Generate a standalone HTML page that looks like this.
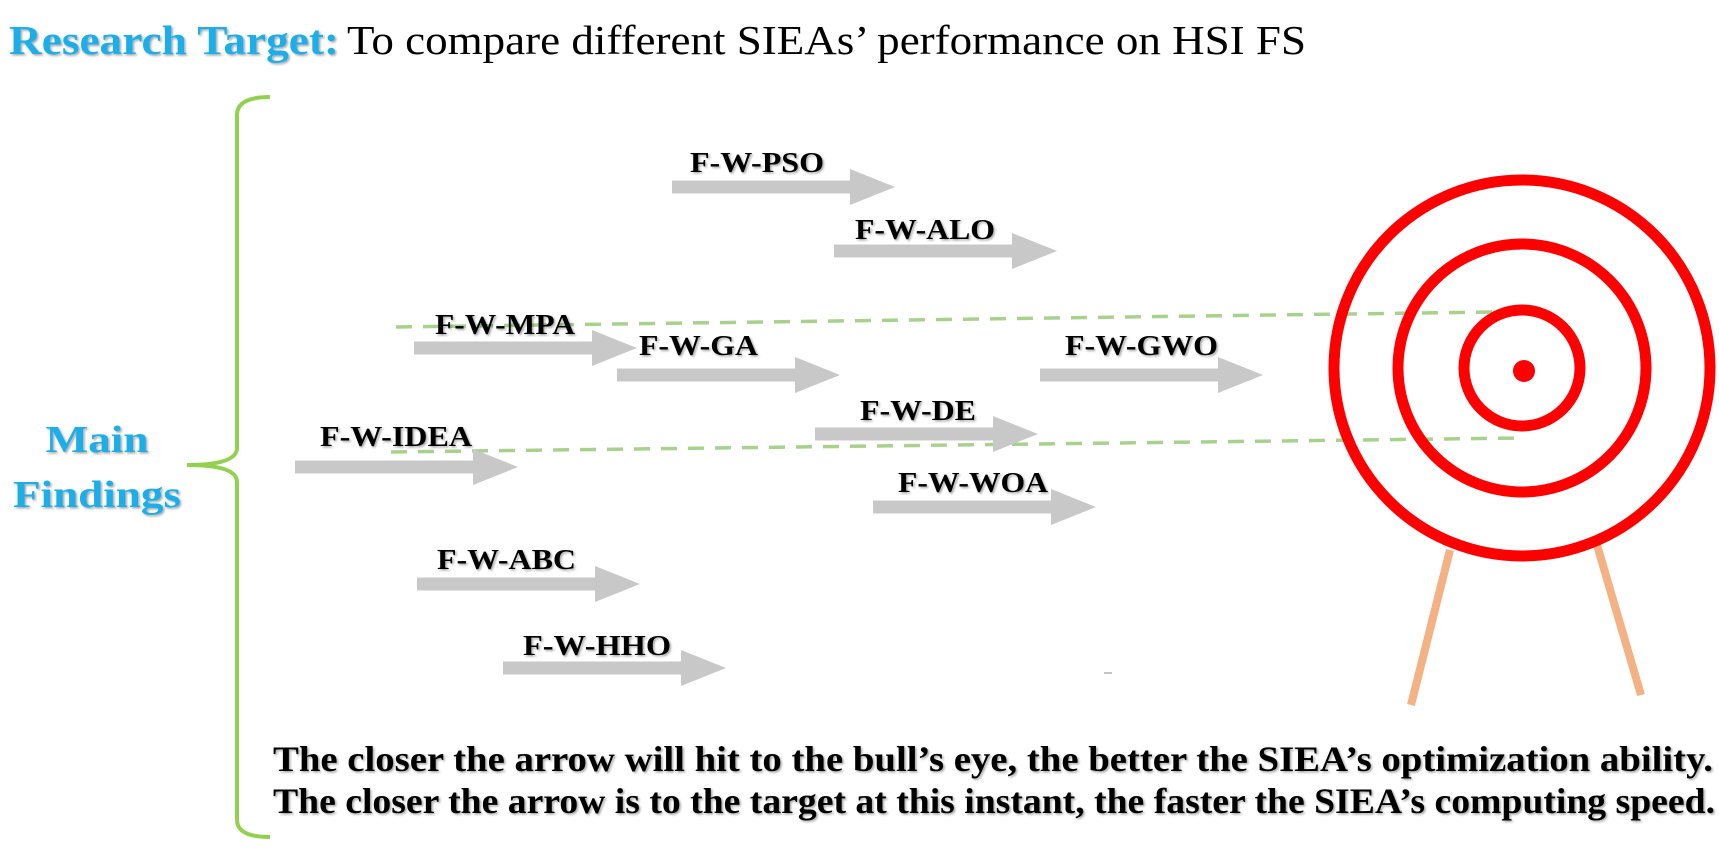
<!DOCTYPE html>
<html><head><meta charset="utf-8"><style>
html,body{margin:0;padding:0;background:#fff;}
svg{display:block;}
text{font-family:"Liberation Serif",serif;}
</style></head><body>
<svg width="1719" height="848" viewBox="0 0 1719 848" xmlns="http://www.w3.org/2000/svg">
<defs>
<filter id="sh" x="-5%" y="-20%" width="110%" height="140%"><feDropShadow dx="1.5" dy="1.5" stdDeviation="1" flood-color="#000" flood-opacity="0.35"/></filter>
<g id="arr"><rect x="0" y="-6.5" width="180" height="13" fill="#c8c8c8"/><polygon points="178,-18 223,0 178,18" fill="#c8c8c8"/></g>
</defs>
<text x="9" y="54" font-size="41" font-weight="bold" fill="#1eaee8" filter="url(#sh)" textLength="330" lengthAdjust="spacingAndGlyphs">Research Target:</text>
<text x="347" y="54" font-size="41" fill="#000" textLength="959" lengthAdjust="spacingAndGlyphs">To compare different SIEAs’ performance on HSI FS</text>

<path d="M270,97 Q237,97 237,115 L237,448 Q237,465 187,465 Q237,465 237,482 L237,820 Q237,837 270,837" fill="none" stroke="#92d050" stroke-width="4"/>
<text x="97" y="452" font-size="38" font-weight="bold" fill="#1eaee8" text-anchor="middle" filter="url(#sh)" textLength="103" lengthAdjust="spacingAndGlyphs">Main</text>
<text x="97" y="507" font-size="38" font-weight="bold" fill="#1eaee8" text-anchor="middle" filter="url(#sh)" textLength="168" lengthAdjust="spacingAndGlyphs">Findings</text>

<line x1="396" y1="327" x2="1492" y2="312" stroke="#a9d18e" stroke-width="3.5" stroke-dasharray="16,11"/>
<line x1="391" y1="452" x2="1520" y2="438" stroke="#a9d18e" stroke-width="3.5" stroke-dasharray="16,11"/>

<use href="#arr" x="672" y="187"/>
<use href="#arr" x="834" y="251"/>
<use href="#arr" x="414" y="348"/>
<use href="#arr" x="617" y="375"/>
<use href="#arr" x="1040" y="375"/>
<use href="#arr" x="815" y="434"/>
<use href="#arr" x="295" y="467"/>
<use href="#arr" x="873" y="507"/>
<use href="#arr" x="417" y="584"/>
<use href="#arr" x="503" y="668"/>

<g font-size="28" font-weight="bold" fill="#000" filter="url(#sh)">
<text x="690" y="172" textLength="134" lengthAdjust="spacingAndGlyphs">F-W-PSO</text>
<text x="855" y="239" textLength="140" lengthAdjust="spacingAndGlyphs">F-W-ALO</text>
<text x="435" y="334" textLength="140" lengthAdjust="spacingAndGlyphs">F-W-MPA</text>
<text x="639" y="355" textLength="119" lengthAdjust="spacingAndGlyphs">F-W-GA</text>
<text x="1065" y="355" textLength="153" lengthAdjust="spacingAndGlyphs">F-W-GWO</text>
<text x="860" y="420" textLength="116" lengthAdjust="spacingAndGlyphs">F-W-DE</text>
<text x="320" y="446" textLength="152" lengthAdjust="spacingAndGlyphs">F-W-IDEA</text>
<text x="898" y="492" textLength="150" lengthAdjust="spacingAndGlyphs">F-W-WOA</text>
<text x="437" y="569" textLength="139" lengthAdjust="spacingAndGlyphs">F-W-ABC</text>
<text x="523" y="655" textLength="148" lengthAdjust="spacingAndGlyphs">F-W-HHO</text>
</g>
<line x1="1104" y1="673" x2="1112" y2="673" stroke="#888" stroke-width="1"/>

<line x1="1450" y1="550" x2="1411" y2="705" stroke="#f4b183" stroke-width="8"/>
<line x1="1597" y1="545" x2="1641" y2="695" stroke="#f4b183" stroke-width="8"/>
<circle cx="1522" cy="368" r="188" fill="none" stroke="#ff0000" stroke-width="11"/>
<circle cx="1522" cy="368" r="124" fill="none" stroke="#ff0000" stroke-width="11"/>
<circle cx="1522" cy="368" r="58" fill="none" stroke="#ff0000" stroke-width="11"/>
<circle cx="1524" cy="371" r="11" fill="#ff0000"/>

<g font-size="36" font-weight="bold" fill="#000" filter="url(#sh)">
<text x="273" y="771" textLength="1440" lengthAdjust="spacingAndGlyphs">The closer the arrow will hit to the bull’s eye, the better the SIEA’s optimization ability.</text>
<text x="273" y="813" textLength="1442" lengthAdjust="spacingAndGlyphs">The closer the arrow is to the target at this instant, the faster the SIEA’s computing speed.</text>
</g>
</svg>
</body></html>
